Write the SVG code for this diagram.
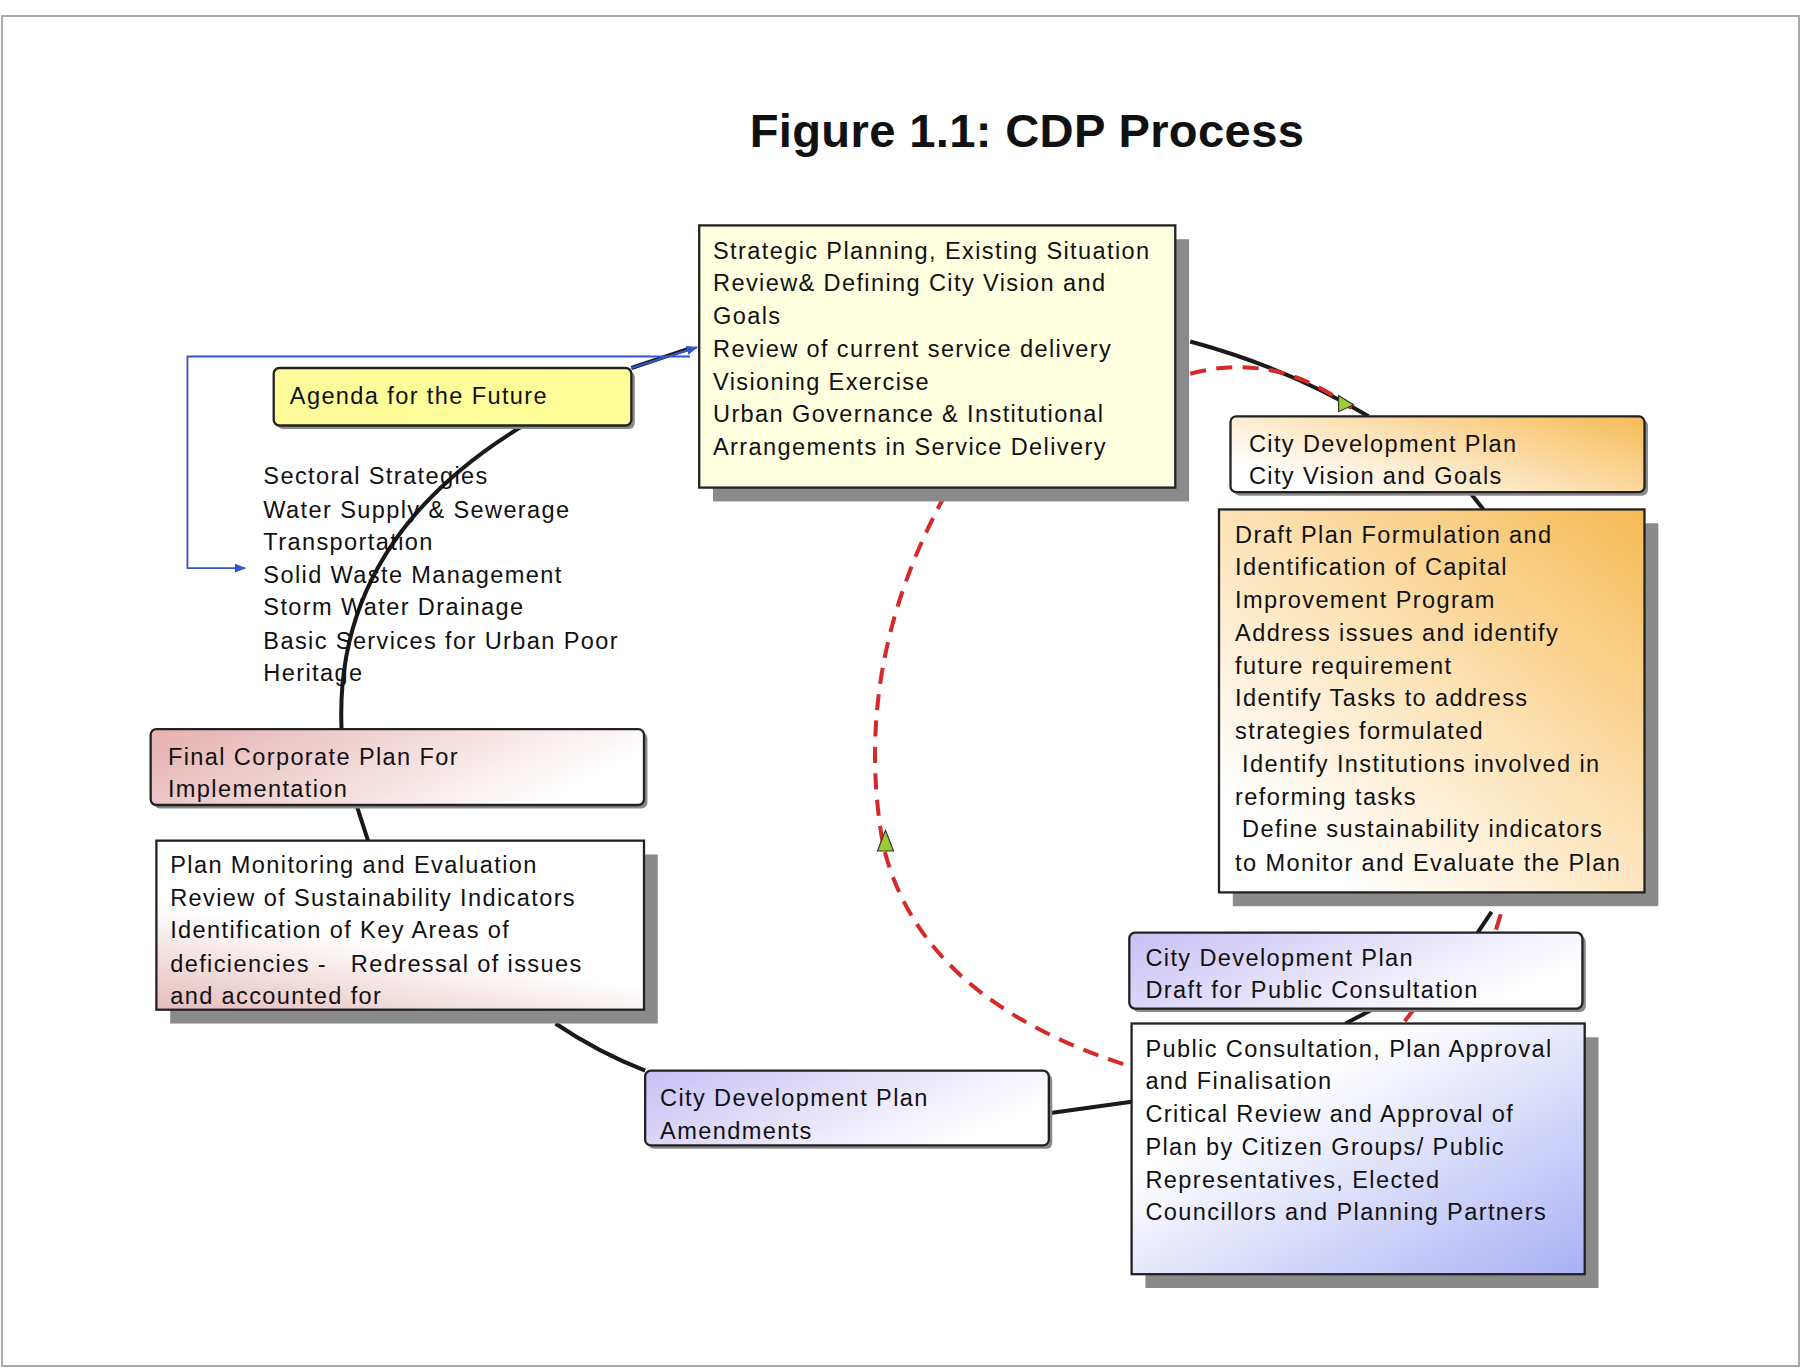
<svg xmlns="http://www.w3.org/2000/svg" width="1803" height="1371" viewBox="0 0 1803 1371">
<defs>
<style>
text{font-family:"Liberation Sans",Arial,sans-serif;font-size:20.5px;fill:#111;letter-spacing:1.2px}
.t{font-size:41px;font-weight:bold;letter-spacing:0.3px}
.sh{fill:#8a8a8a}
.b{stroke:#222;stroke-width:2}
.arc{fill:none;stroke:#1a1a1a;stroke-width:3.5}
.dash{fill:none;stroke:#d42a2a;stroke-width:3.5;stroke-dasharray:14 9}
</style>
<linearGradient id="gy" x1="0" y1="0" x2="1" y2="0"><stop offset="0" stop-color="#fbfb9a"/><stop offset="1" stop-color="#ffff99"/></linearGradient>
<linearGradient id="go" x1="1" y1="0" x2="0" y2="0.6"><stop offset="0" stop-color="#f7bb55"/><stop offset="1" stop-color="#ffffff"/></linearGradient>
<linearGradient id="go2" x1="1" y1="0" x2="0.2" y2="0.9"><stop offset="0" stop-color="#f7bb55"/><stop offset="0.6" stop-color="#fde6bf"/><stop offset="1" stop-color="#ffffff"/></linearGradient>
<linearGradient id="gl" x1="0" y1="0" x2="1" y2="0.4"><stop offset="0" stop-color="#c8c0f5"/><stop offset="1" stop-color="#ffffff"/></linearGradient>
<linearGradient id="gb" x1="0" y1="0" x2="1" y2="1"><stop offset="0.3" stop-color="#ffffff"/><stop offset="1" stop-color="#aab0f5"/></linearGradient>
<linearGradient id="gp" x1="0" y1="0" x2="1" y2="0.3"><stop offset="0" stop-color="#e6b0b0"/><stop offset="1" stop-color="#ffffff"/></linearGradient>
<linearGradient id="gp2" x1="0" y1="1" x2="0.5" y2="0"><stop offset="0" stop-color="#e6bcbc"/><stop offset="0.5" stop-color="#ffffff"/></linearGradient>
<marker id="ab" markerWidth="10" markerHeight="10" refX="9" refY="5" orient="auto" markerUnits="userSpaceOnUse"><path d="M0,1 L10,5 L0,9 Z" fill="#3355cc"/></marker>
</defs>
<rect x="2" y="16" width="1797" height="1350" fill="#fff" stroke="#aaa" stroke-width="2"/>
<g transform="scale(1.15)">
<text class="t" x="893" y="128" text-anchor="middle">Figure 1.1: CDP Process</text>
<g id="connectors">
<path class="arc" d="M549,320 L600,303"/>
<path d="M549,320 L606,302" stroke="#3355cc" stroke-width="2" fill="none" marker-end="url(#ab)"/>
<path d="M600,310 L163,310 L163,494 L213,494" stroke="#3355cc" stroke-width="1.6" fill="none" marker-end="url(#ab)"/>
<path class="arc" d="M1035,297 Q1120,320 1190,362"/>
<path class="arc" d="M1278,428 L1290,443"/>
<path class="arc" d="M1297,793 L1285,811"/>
<path class="arc" d="M1195,877 L1170,890"/>
<path class="arc" d="M984,958 L912,968"/>
<path class="arc" d="M561,931 Q520,915 483,890"/>
<path class="arc" d="M310,700 L320,731"/>
<path class="arc" d="M297,634 Q290,470 455,370"/>
<path class="dash" d="M1035,325 Q1110,305 1175,355"/>
<path class="dash" d="M1305,795 L1300,811"/>
<path class="dash" d="M1230,877 L1220,890"/>
<path class="dash" d="M822,430 Q740,580 768,735 Q800,870 985,928"/>
<path d="M1164,344 L1177,352 L1164,358 Z" fill="#9acd32" stroke="#333"/>
<path d="M763,740 L770,722 L777,740 Z" fill="#9acd32" stroke="#333"/>
</g>
<g id="top">
<rect class="sh" x="620" y="208" width="414" height="228"/>
<rect class="b" x="608" y="196" width="414" height="228" fill="#ffffe0"/>
<text x="620" y="225">Strategic Planning, Existing Situation</text>
<text x="620" y="253">Review&amp; Defining City Vision and</text>
<text x="620" y="282">Goals</text>
<text x="620" y="310">Review of current service delivery</text>
<text x="620" y="339">Visioning Exercise</text>
<text x="620" y="367">Urban Governance &amp; Institutional</text>
<text x="620" y="396">Arrangements in Service Delivery</text>
</g>
<g id="agenda">
<rect class="sh" x="241" y="323" width="311" height="50" rx="5"/>
<rect class="b" x="238" y="320" width="311" height="50" rx="5" fill="url(#gy)"/>
<text x="252" y="351">Agenda for the Future</text>
</g>
<g id="sectoral">
<text x="229" y="421">Sectoral Strategies</text>
<text x="229" y="450">Water Supply  &amp; Sewerage</text>
<text x="229" y="478">Transportation</text>
<text x="229" y="507">Solid Waste Management</text>
<text x="229" y="535">Storm Water Drainage</text>
<text x="229" y="564">Basic Services for Urban Poor</text>
<text x="229" y="592">Heritage</text>
</g>
<g id="vision">
<rect class="sh" x="1073" y="365" width="360" height="66" rx="5"/>
<rect class="b" x="1070" y="362" width="360" height="66" rx="5" fill="url(#go)"/>
<text x="1086" y="393">City Development Plan</text>
<text x="1086" y="421">City Vision and Goals</text>
</g>
<g id="draft">
<rect class="sh" x="1072" y="455" width="370" height="333"/>
<rect class="b" x="1060" y="443" width="370" height="333" fill="url(#go2)"/>
<text x="1074" y="472">Draft Plan Formulation and</text>
<text x="1074" y="500">Identification of Capital</text>
<text x="1074" y="529">Improvement Program</text>
<text x="1074" y="557">Address issues and identify</text>
<text x="1074" y="586">future requirement</text>
<text x="1074" y="614">Identify Tasks to address</text>
<text x="1074" y="643">strategies formulated</text>
<text x="1080" y="671">Identify Institutions involved in</text>
<text x="1074" y="700">reforming tasks</text>
<text x="1080" y="728">Define sustainability indicators</text>
<text x="1074" y="757">to Monitor and Evaluate the Plan</text>
</g>
<g id="cdpdraft">
<rect class="sh" x="985" y="814" width="394" height="66" rx="5"/>
<rect class="b" x="982" y="811" width="394" height="66" rx="5" fill="url(#gl)"/>
<text x="996" y="840">City Development Plan</text>
<text x="996" y="868">Draft for Public Consultation</text>
</g>
<g id="public">
<rect class="sh" x="996" y="902" width="394" height="218"/>
<rect class="b" x="984" y="890" width="394" height="218" fill="url(#gb)"/>
<text x="996" y="919">Public Consultation, Plan Approval</text>
<text x="996" y="947">and Finalisation</text>
<text x="996" y="976">Critical Review and Approval of</text>
<text x="996" y="1004">Plan by Citizen Groups/ Public</text>
<text x="996" y="1033">Representatives, Elected</text>
<text x="996" y="1061">Councillors and Planning Partners</text>
</g>
<g id="amend">
<rect class="sh" x="564" y="934" width="351" height="65" rx="5"/>
<rect class="b" x="561" y="931" width="351" height="65" rx="5" fill="url(#gl)"/>
<text x="574" y="962">City Development Plan</text>
<text x="574" y="990">Amendments</text>
</g>
<g id="monitor">
<rect class="sh" x="148" y="743" width="424" height="147"/>
<rect class="b" x="136" y="731" width="424" height="147" fill="url(#gp2)"/>
<text x="148" y="759">Plan Monitoring and Evaluation</text>
<text x="148" y="788">Review of Sustainability Indicators</text>
<text x="148" y="816">Identification of  Key Areas of</text>
<text x="148" y="845" xml:space="preserve">deficiencies -   Redressal of issues</text>
<text x="148" y="873">and accounted for</text>
</g>
<g id="final">
<rect class="sh" x="134" y="637" width="429" height="66" rx="5"/>
<rect class="b" x="131" y="634" width="429" height="66" rx="5" fill="url(#gp)"/>
<text x="146" y="665">Final Corporate Plan For</text>
<text x="146" y="693">Implementation</text>
</g>
</g>
</svg>
